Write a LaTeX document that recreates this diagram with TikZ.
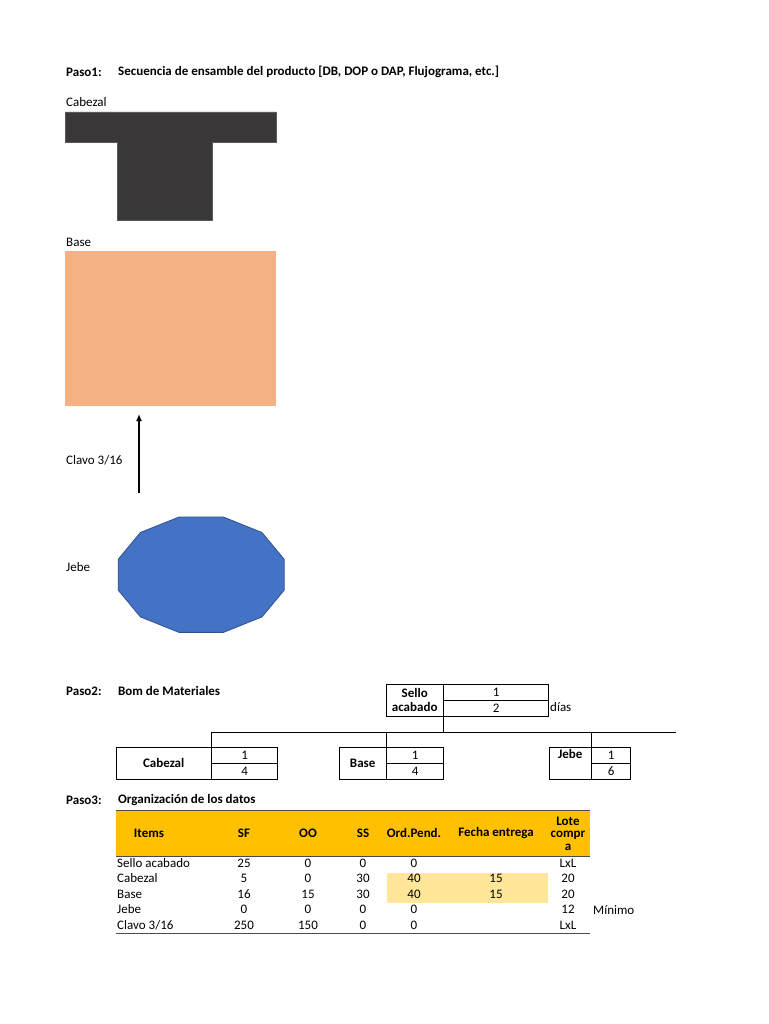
\documentclass[tikz,border=0pt]{standalone}
\usepackage{fontspec}
\setmainfont{Carlito}
\usetikzlibrary{arrows.meta}
\definecolor{cabezalgray}{HTML}{3A3838}
\definecolor{basesalmon}{HTML}{F4B183}
\definecolor{jebeblue}{HTML}{4472C4}
\definecolor{jebeedge}{HTML}{2F528F}
\definecolor{headgold}{HTML}{FFC000}
\definecolor{pendyellow}{HTML}{FFE699}
\definecolor{rulegray}{HTML}{4A4A4A}
\newcommand{\sheetfont}{\fontsize{13}{14}\selectfont}
\newcommand{\sheetbold}{\fontsize{13}{14}\selectfont\bfseries}
\tikzstyle{txt}=[inner sep=0pt,anchor=west]
\tikzstyle{bold}=[txt,font=\sheetbold]
\tikzstyle{bomcell}=[draw,inner sep=0pt,anchor=north west,align=center]
\tikzstyle{cell}=[inner sep=0pt]
\newcommand{\bomitem}[8]{% name, x, y, label width, value width, label, qty, lead time
  \node[bomcell,font=\sheetbold,minimum width=#4,minimum height=32] (#1) at (#2,#3) {#6};
  \node[bomcell,minimum width=#5,minimum height=16] (#1-q) at (#1.north east) {#7};
  \node[bomcell,minimum width=#5,minimum height=16] (#1-t) at (#1-q.south west) {#8};
}
\begin{document}
\begin{tikzpicture}[x=1pt,y=-1pt,font=\sheetfont]
\useasboundingbox[fill=white] (0,0) rectangle (768,1024);
% Paso 1
\node[bold] (paso1) at (66,72) {Paso1:};
\node[bold] (paso1t) at (118,72) {Secuencia de ensamble del producto [DB, DOP o DAP, Flujograma, etc.]};
\node[txt] (lcabezal) at (66,102) {Cabezal};
\fill[cabezalgray,draw=gray!70!black,line width=0.4pt]
  (65,112) -- (276,112) -- (276,142) -- (212,142) -- (212,220) -- (117,220) -- (117,142) -- (65,142) -- cycle;
\node[txt] (lbase) at (66,242) {Base};
\node[fill=basesalmon,minimum width=211,minimum height=155,inner sep=0pt,anchor=north west] (base) at (65,251) {};
\node[txt] (lclavo) at (66,460) {Clavo 3/16};
\coordinate (clavo) at (139,493);
\coordinate (clavotip) at (139,414);
\draw[line width=1.8pt,-{Latex[length=7pt,width=6pt]}] (clavo) -- (clavotip);
\node[txt] (ljebe) at (66,567) {Jebe};
\coordinate (jebe) at (201.2,574.7);
\draw[fill=jebeblue,draw=jebeedge,line width=0.8pt] (jebe) +(15:85.9 and 59.7)
  \foreach \a in {45,75,...,345} { -- +(\a:85.9 and 59.7)} -- cycle;
% Paso 2
\node[bold] (paso2) at (66,691) {Paso2:};
\node[bold] (paso2t) at (118,691) {Bom de Materiales};
\bomitem{sello}{386}{684}{57}{105}{Sello\\acabado}{1}{2}
\node[txt] (dias) at (550,707.5) {días};
\bomitem{cabezal}{116}{747}{95}{66}{Cabezal}{1}{4}
\bomitem{base}{339}{747}{47}{57}{Base}{1}{4}
\bomitem{jebe}{549}{747}{42}{39}{\raisebox{4.5pt}[0pt][0pt]{Jebe}}{1}{6}
\coordinate (bus) at (0,732);
\coordinate (busend) at (676,732);
\draw (sello.south east) -- (sello.south east |- bus);
\draw (cabezal.north east |- bus) -- (busend);
\foreach \n in {cabezal,base,jebe}
  \draw (\n.north east) -- (\n.north east |- bus);
% Paso 3
\node[bold] (paso3) at (66,800) {Paso3:};
\node[bold] (paso3t) at (118,800) {Organización de los datos};
\fill[headgold] (116,810) rectangle (590,856);
\fill[pendyellow] (386.5,872.5) rectangle (548,902.5);
\draw[rulegray,line width=0.6pt] (116,810) -- (590,810);
\draw[rulegray,line width=1.4pt] (116,856.5) -- (590,856.5);
\draw[rulegray,line width=1.4pt] (116,933.5) -- (590,933.5);
\foreach \t/\x in {Items/149,SF/244,OO/308,SS/363,Ord.Pend./414,Fecha entrega/496}
  \node[cell,font=\sheetbold] (h-\x) at (\x,833) {\t};
\node[cell,font=\sheetbold\fontsize{13}{12.5}\selectfont,align=center] (h-lote) at (568,833.5) {Lote\\compr\\a};
\foreach \name/\sf/\oo/\ss/\op/\fe/\lc [count=\r] in
  {Sello acabado/25/0/0/0//LxL, Cabezal/5/0/30/40/15/20, Base/16/15/30/40/15/20,
   Jebe/0/0/0/0//12, Clavo 3\slash 16/250/150/0/0//LxL} {
  \pgfmathsetmacro{\y}{863+15.5*(\r-1)}
  \node[txt] (r\r-name) at (117,\y) {\name};
  \node[cell] (r\r-sf) at (244,\y) {\sf};
  \node[cell] (r\r-oo) at (308,\y) {\oo};
  \node[cell] (r\r-ss) at (363,\y) {\ss};
  \node[cell] (r\r-op) at (414,\y) {\op};
  \node[cell] (r\r-fe) at (496,\y) {\fe};
  \node[cell] (r\r-lc) at (568,\y) {\lc};
}
\node[txt] (minimo) at (593,910) {Mínimo};
\end{tikzpicture}
\end{document}
